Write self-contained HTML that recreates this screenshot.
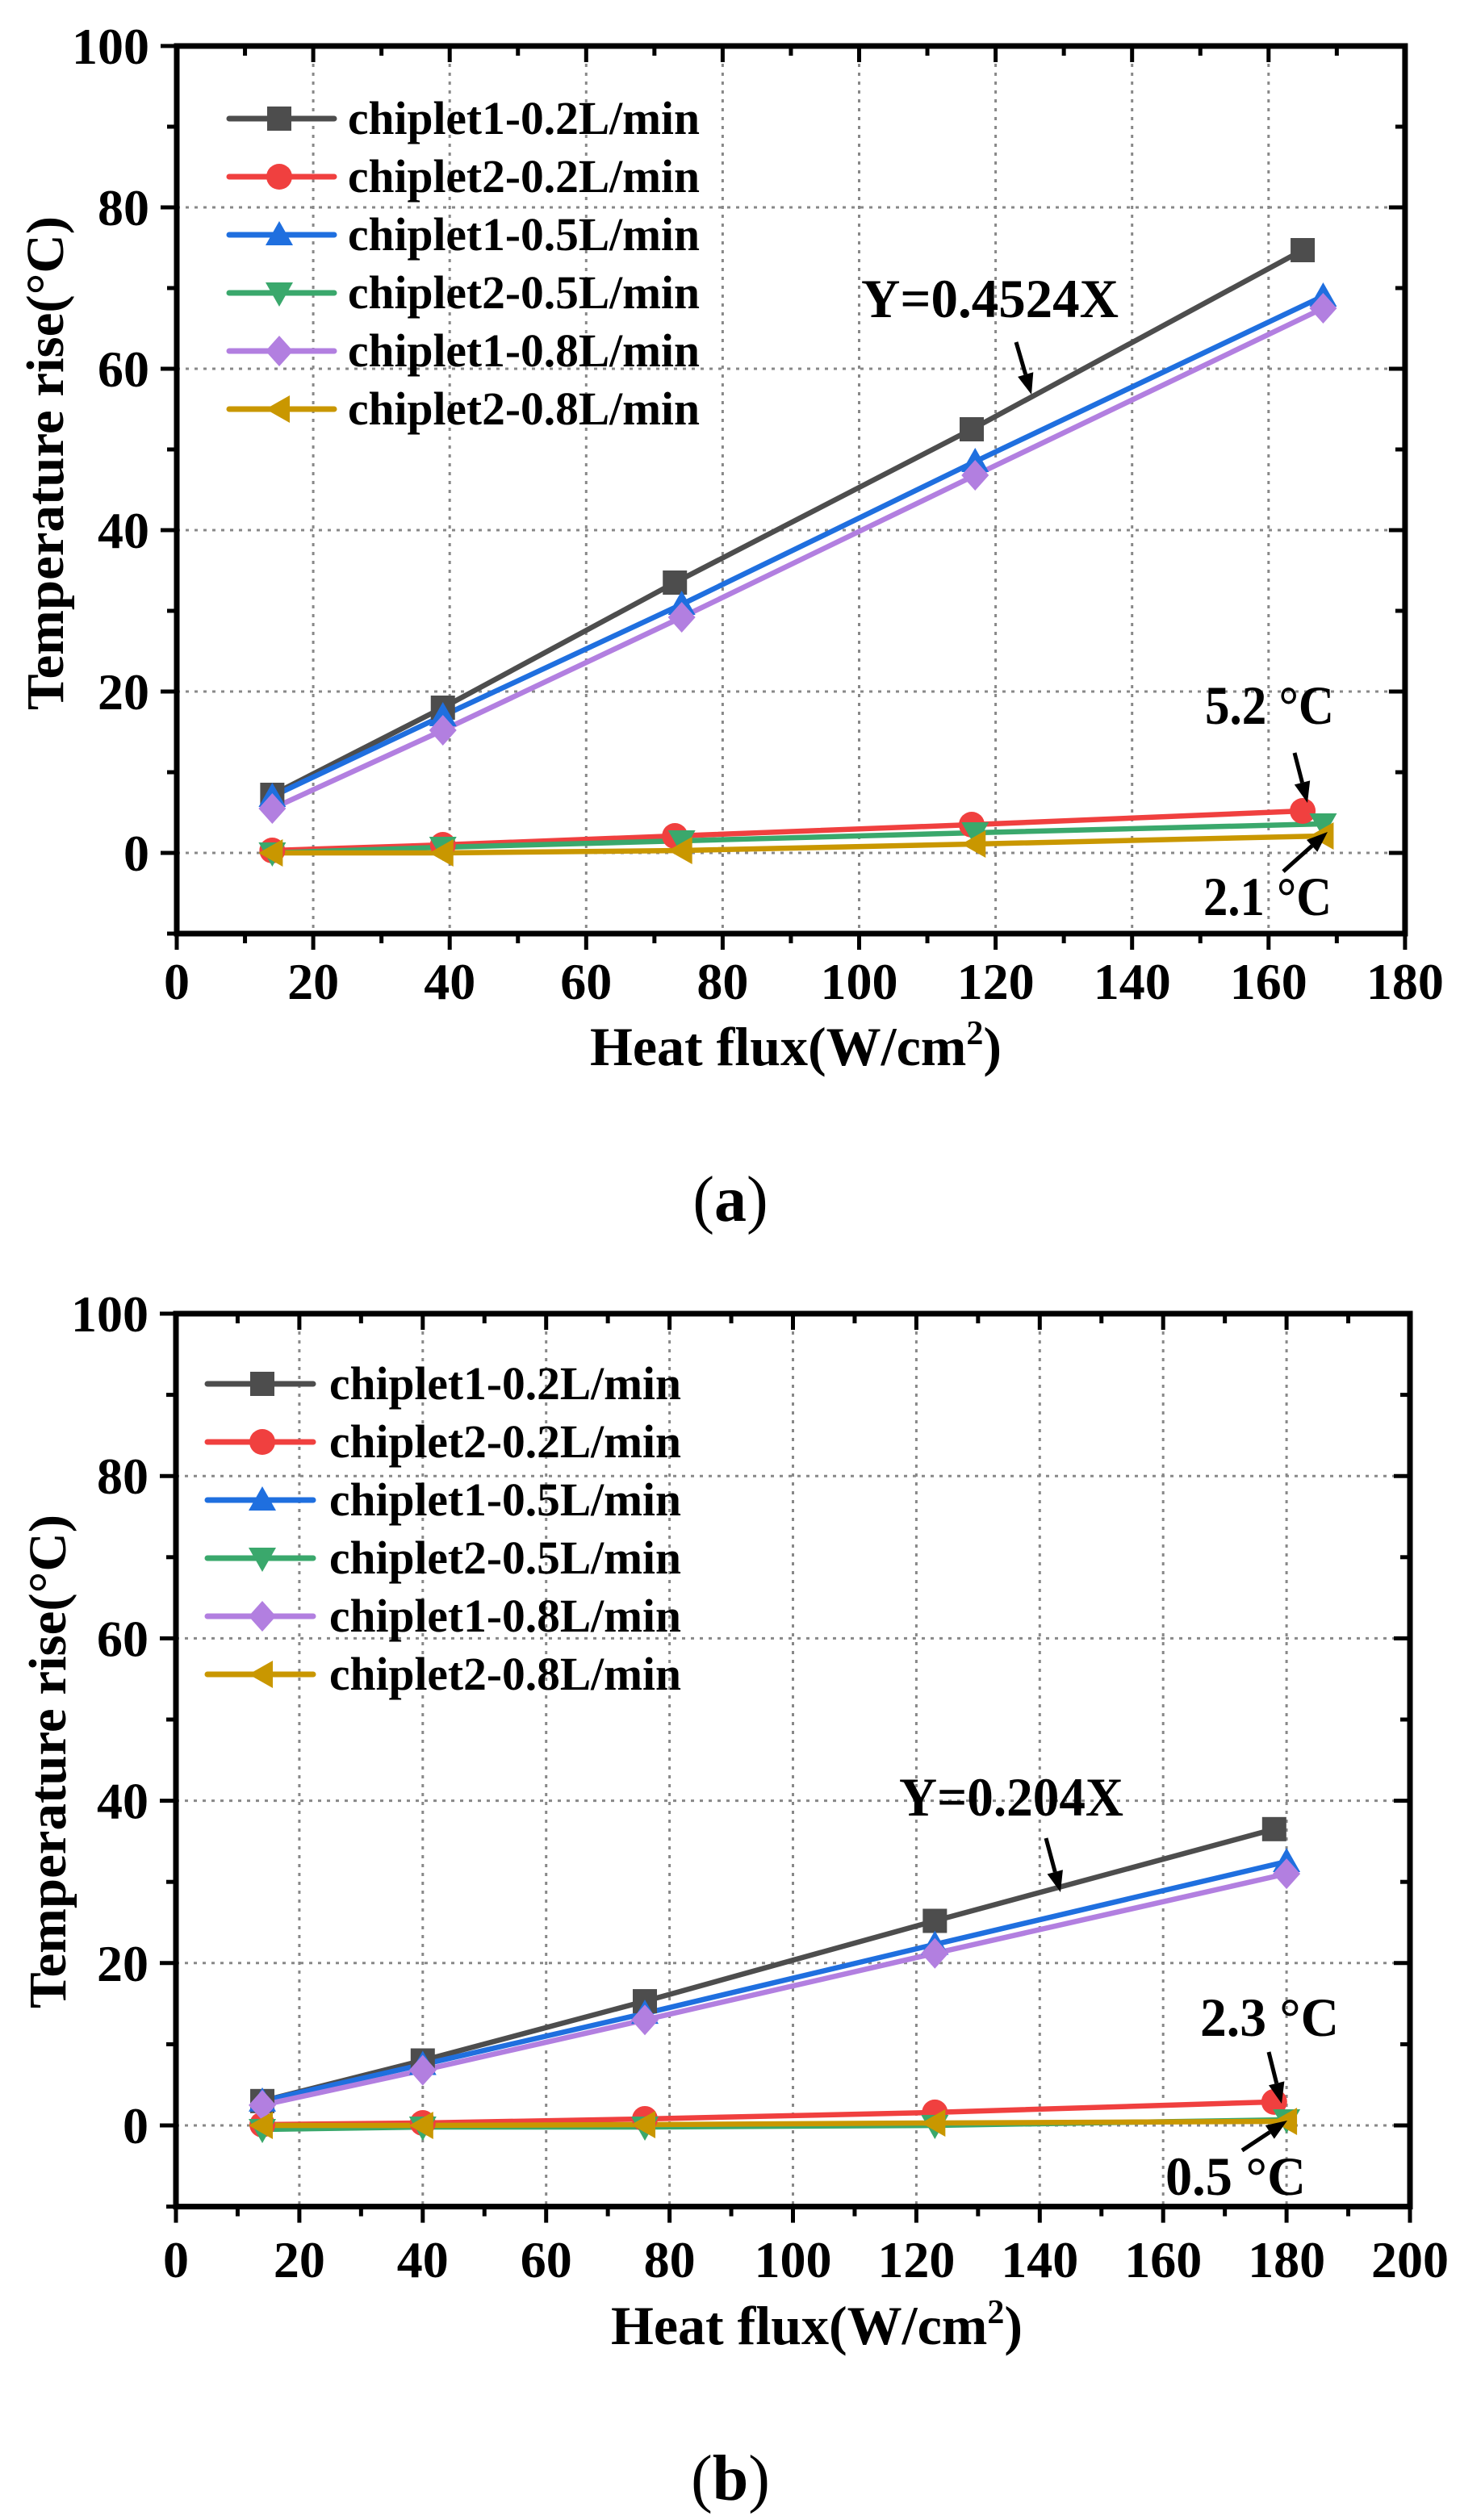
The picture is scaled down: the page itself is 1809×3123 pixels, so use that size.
<!DOCTYPE html>
<html><head><meta charset="utf-8">
<style>
html,body{margin:0;padding:0;background:#fff;}
svg{display:block;}
text{font-family:"Liberation Serif","Times New Roman",serif;font-weight:bold;fill:#000;}
</style></head>
<body>
<svg id="s" xmlns="http://www.w3.org/2000/svg" width="1809" height="3123" viewBox="0 0 1809 3123"></svg>
<script>
const S=document.getElementById('s');
let out='';
const cols=['#4d4d4d','#f0403f','#1f6fdf','#3aa86c','#b27fe0','#c99700'];
const names=['chiplet1-0.2L/min','chiplet2-0.2L/min','chiplet1-0.5L/min','chiplet2-0.5L/min','chiplet1-0.8L/min','chiplet2-0.8L/min'];
function marker(k,x,y,c){
  if(k==0) return `<rect x="${x-15}" y="${y-15}" width="30" height="30" fill="${c}"/>`;
  if(k==1) return `<circle cx="${x}" cy="${y}" r="16" fill="${c}"/>`;
  if(k==2) return `<polygon points="${x},${y-17} ${x+17},${y+13} ${x-17},${y+13}" fill="${c}"/>`;
  if(k==3) return `<polygon points="${x},${y+17} ${x+17},${y-13} ${x-17},${y-13}" fill="${c}"/>`;
  if(k==4) return `<polygon points="${x},${y-19} ${x+17},${y} ${x},${y+19} ${x-17},${y}" fill="${c}"/>`;
  return `<polygon points="${x-17},${y} ${x+13},${y-17} ${x+13},${y+17}" fill="${c}"/>`;
}
function arrow(x1,y1,x2,y2){
  const a=Math.atan2(y2-y1,x2-x1),L=26,W=10;
  const bx=x2-L*Math.cos(a),by=y2-L*Math.sin(a);
  const px=-Math.sin(a)*W,py=Math.cos(a)*W;
  return `<line x1="${x1}" y1="${y1}" x2="${bx}" y2="${by}" stroke="#000" stroke-width="5"/>`+
  `<polygon points="${x2},${y2} ${bx+px},${by+py} ${bx-px},${by-py}" fill="#000"/>`;
}
function chart(o){
  const X=v=>o.x0+v*o.xu, Y=v=>o.y0-v*o.yu;
  const L=o.x0,R=X(o.xmax),T=Y(100),B=Y(-10);
  for(let v=20;v<o.xmax;v+=20) out+=`<line x1="${X(v)}" y1="${T}" x2="${X(v)}" y2="${B}" stroke="#888" stroke-width="3" stroke-dasharray="4,7"/>`;
  for(let v=0;v<100;v+=20) out+=`<line x1="${L}" y1="${Y(v)}" x2="${R}" y2="${Y(v)}" stroke="#888" stroke-width="3" stroke-dasharray="4,7"/>`;
  for(let v=0;v<=o.xmax;v+=10){const m=v%20==0,l=m?17:9;
    out+=`<line x1="${X(v)}" y1="${B}" x2="${X(v)}" y2="${B+l+3}" stroke="#000" stroke-width="5"/>`;
    out+=`<line x1="${X(v)}" y1="${T}" x2="${X(v)}" y2="${T+l+3}" stroke="#000" stroke-width="5"/>`;
    if(m) out+=`<text x="${X(v)}" y="${o.tickBase}" font-size="64" text-anchor="middle">${v}</text>`;}
  for(let v=-10;v<=100;v+=10){const m=v%20==0,l=m?17:9;
    out+=`<line x1="${L}" y1="${Y(v)}" x2="${L-l-3}" y2="${Y(v)}" stroke="#000" stroke-width="5"/>`;
    out+=`<line x1="${R}" y1="${Y(v)}" x2="${R-l-3}" y2="${Y(v)}" stroke="#000" stroke-width="5"/>`;
    if(m) out+=`<text x="${L-34}" y="${Y(v)+22}" font-size="64" text-anchor="end">${v}</text>`;}
  out+=`<rect x="${L}" y="${T}" width="${R-L}" height="${B-T}" fill="none" stroke="#000" stroke-width="7"/>`;
  o.data.forEach((d,k)=>{
    out+=`<polyline points="${d.map(p=>X(p[0])+','+Y(p[1])).join(' ')}" fill="none" stroke="${cols[k]}" stroke-width="6.5"/>`;
  });
  o.data.forEach((d,k)=>{d.forEach(p=>out+=marker(k,X(p[0]),Y(p[1]),cols[k]));});
  names.forEach((n,k)=>{const y=o.lg.y+k*72;
    out+=`<line x1="${o.lg.x1}" y1="${y}" x2="${o.lg.x2}" y2="${y}" stroke="${cols[k]}" stroke-width="7" stroke-linecap="round"/>`;
    out+=marker(k,o.lg.m,y,cols[k]);
    out+=`<text x="${o.lg.t}" y="${y+19}" font-size="58" textLength="436" lengthAdjust="spacingAndGlyphs">${n}</text>`;});
  out+=`<text x="${o.xt.x}" y="${o.xt.y}" font-size="68" text-anchor="middle">Heat flux(W/cm<tspan dy="-26" font-size="42">2</tspan><tspan dy="26">)</tspan></text>`;
  out+=`<text transform="translate(${o.yt.x},${o.yt.y}) rotate(-90)" font-size="66" text-anchor="middle" textLength="612" lengthAdjust="spacingAndGlyphs">Temperature rise(°C)</text>`;
  out+=`<text x="905" y="${o.lab}" font-size="80" text-anchor="middle" style="font-weight:normal">(<tspan font-weight="bold">${o.name}</tspan>)</text>`;
  o.ann.forEach(a=>out+=`<text x="${a[0]}" y="${a[1]}" font-size="68" textLength="${a[3]}" lengthAdjust="spacingAndGlyphs">${a[2]}</text>`);
  o.arr.forEach(a=>out+=arrow(...a));
}
chart({x0:219,xu:8.455,xmax:180,y0:1057,yu:10,tickBase:1238,
 data:[[[14,7.2],[39,18],[73,33.5],[116.5,52.5],[165,74.7]],
       [[14,0.3],[39,1],[73,2.1],[116.5,3.5],[165,5.2]],
       [[14,7],[39,17],[74,30.8],[117,48.5],[168,69]],
       [[14,0],[39,0.7],[74,1.5],[117,2.5],[168,3.6]],
       [[14,5.5],[39,15.2],[74,29.2],[117,46.8],[168,67.5]],
       [[14,0],[39,0],[74,0.3],[117,1.1],[168,2.1]]],
 lg:{y:147,x1:284,x2:414,m:346,t:431},
 xt:{x:986,y:1320},yt:{x:78,y:574},lab:1513,name:'a',
 ann:[[1067,393,'Y=0.4524X',319],[1493,897,'5.2 °C',160],[1491,1134,'2.1 °C',159]],
 arr:[[1259,424,1278,489],[1604,933,1620,995],[1590,1080,1645,1031]]});
chart({x0:218,xu:7.645,xmax:200,y0:2634,yu:10.06,tickBase:2822,
 data:[[[14,3],[40,8],[76,15.3],[123,25.2],[178,36.5]],
       [[14,0.1],[40,0.3],[76,0.8],[123,1.6],[178,2.9]],
       [[14,3],[40,7.5],[76,13.8],[123,22.3],[180,32.5]],
       [[14,-0.5],[40,-0.2],[76,-0.2],[123,0],[180,0.7]],
       [[14,2.5],[40,6.8],[76,13],[123,21.2],[180,31]],
       [[14,0],[40,0],[76,0.1],[123,0.3],[180,0.5]]],
 lg:{y:1715,x1:257,x2:388,m:325,t:408},
 xt:{x:1012,y:2905},yt:{x:81,y:2183},lab:3098,name:'b',
 ann:[[1114,2250,'Y=0.204X',278],[1487,2523,'2.3 °C',172],[1444,2720,'0.5 °C',174]],
 arr:[[1296,2278,1314,2345],[1572,2543,1588,2607],[1539,2665,1595,2628]]});
S.innerHTML=out;
</script>
</body></html>
